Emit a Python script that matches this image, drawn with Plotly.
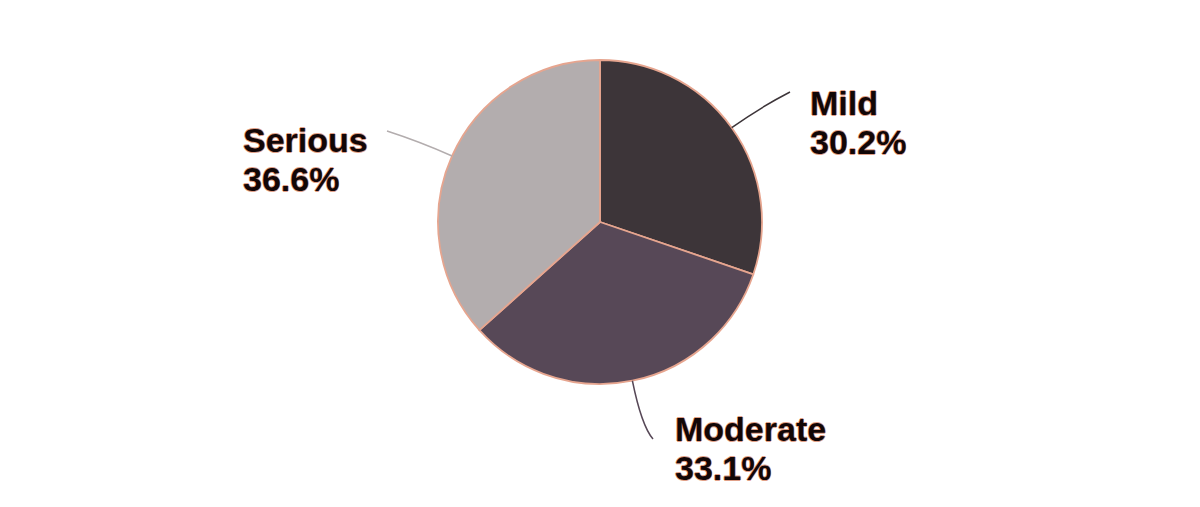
import math
import plotly.graph_objects as go

categories = ["Mild", "Moderate", "Serious"]
values = [30.2, 33.1, 36.6]
slice_colors = ["#3d3539", "#574857", "#b3adae"]

W, H = 1200, 507
CX, CY, R = 600, 222, 162
BORDER = "#e6a58f"

def px(x):
    return x / W

def py(y):
    return 1 - y / H

fig = go.Figure(go.Pie(
    labels=categories,
    values=values,
    sort=False,
    direction="clockwise",
    rotation=0,
    textinfo="none",
    hoverinfo="label+percent",
    marker=dict(colors=slice_colors, line=dict(color=BORDER, width=1.8)),
    domain=dict(x=[px(CX - R), px(CX + R)], y=[py(CY + R), py(CY - R)]),
    showlegend=False,
))

# label layout (pixel offsets relative to slice mid-point on edge)
label_cfg = {
    "Mild":     dict(ctrl=35, end=(790, 92), text=(808, 103, 142)),
    "Moderate": dict(ctrl=46, end=(653, 439), text=(673, 429, 468)),
    "Serious":  dict(ctrl=35, end=(387, 131), text=(241, 140, 179)),
}

total = sum(values)
start = 0.0
shapes, annotations = [], []
outline = ("0.7px 0 0 #e0a088, -0.7px 0 0 #e0a088, 0 0.7px 0 #e0a088, "
           "0 -0.7px 0 #e0a088")
for cat, val, col in zip(categories, values, slice_colors):
    span = val / total * 360
    mid = math.radians(start + span / 2)
    start += span
    dx, dy = math.sin(mid), -math.cos(mid)
    ax, ay = CX + R * dx, CY + R * dy
    cfg = label_cfg[cat]
    bx, by = ax + cfg["ctrl"] * dx, ay + cfg["ctrl"] * dy
    ex, ey = cfg["end"]
    path = (f"M {px(ax):.5f},{py(ay):.5f} Q {px(bx):.5f},{py(by):.5f} "
            f"{px(ex):.5f},{py(ey):.5f}")
    shapes.append(dict(type="path", xref="paper", yref="paper", path=path,
                       line=dict(color=col, width=1.5)))
    tx, ty1, ty2 = cfg["text"]
    for txt, ty in ((cat, ty1), (f"{val:.1f}%", ty2)):
        annotations.append(dict(
            x=px(tx), y=py(ty), xref="paper", yref="paper",
            xanchor="left", yanchor="middle", showarrow=False,
            text=f"<b>{txt}</b>",
            font=dict(family="Liberation Sans, Arial, sans-serif", size=34,
                      color="#120606", shadow=outline),
        ))

fig.update_layout(
    width=W, height=H,
    margin=dict(l=0, r=0, t=0, b=0),
    paper_bgcolor="white", plot_bgcolor="white",
    shapes=shapes, annotations=annotations,
)

fig.write_html("out.html")
